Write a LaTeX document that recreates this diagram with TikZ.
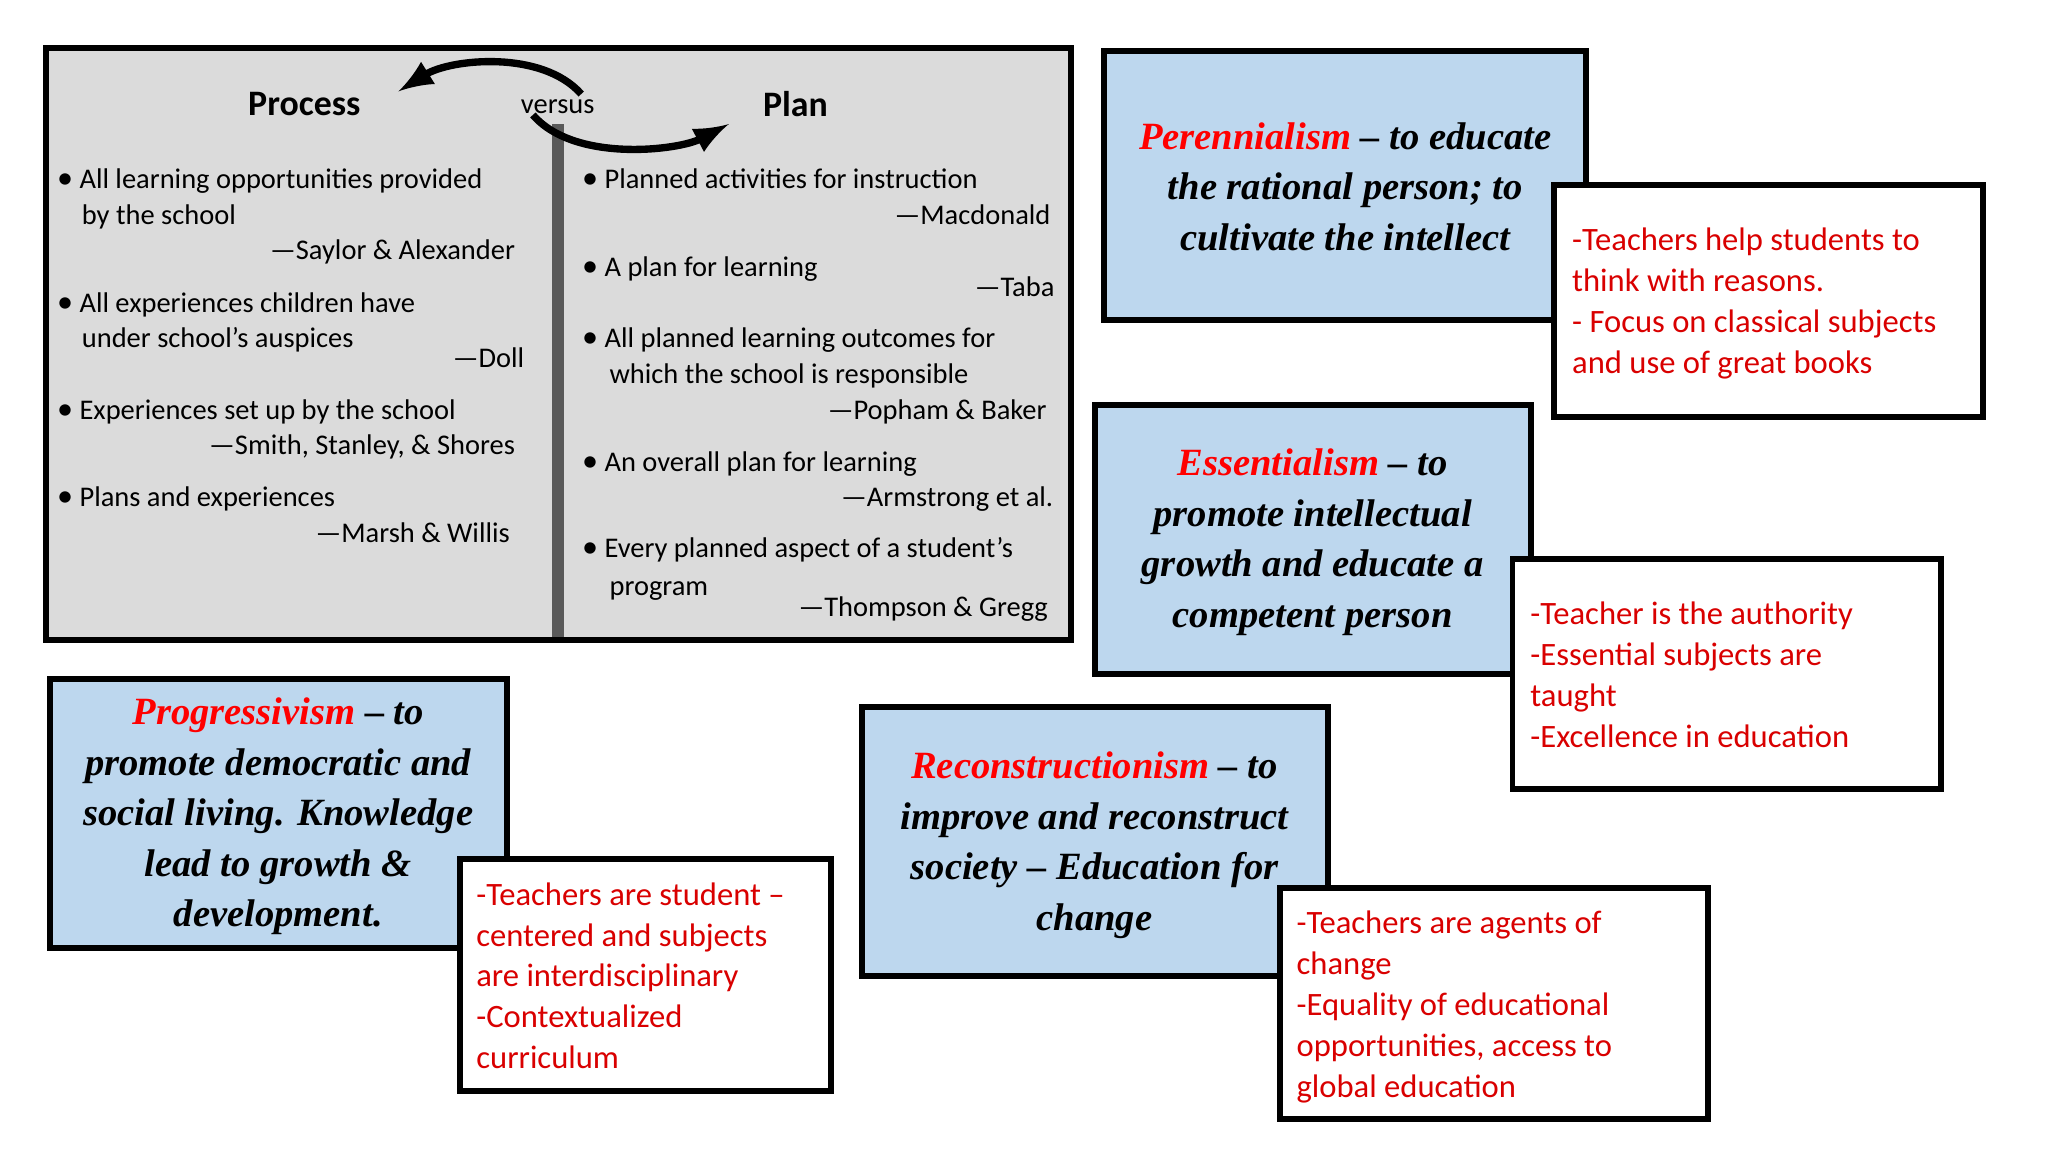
\documentclass[tikz,border=0pt]{standalone}
\usepackage{fontspec}
\setmainfont{Carlito}
\newfontfamily\ttl{Liberation Serif}
\definecolor{bfill}{RGB}{189,215,238}
\begin{document}
\begin{tikzpicture}[x=0.01cm,y=-0.01cm,
 gt/.style={font=\fontsize{6.2pt}{7pt}\selectfont,inner sep=0,anchor=base west},
 ga/.style={gt,anchor=base east},
 blue/.style={draw=black,line width=1.3pt,fill=bfill},
 redb/.style={draw=black,line width=1.3pt,fill=white},
 rt/.style={font=\fontsize{7.1pt}{8.9pt}\selectfont,text=red!85!black,align=left,anchor=north west,inner sep=0},
 tt/.style={font=\ttl\bfseries\itshape\fontsize{8.4pt}{11pt}\selectfont,align=center,inner sep=0}]
\newcommand\bul{{\scriptsize\textbullet}\ }
\useasboundingbox (0,0) rectangle (1568,882);
% panel
\draw[line width=1.3pt,fill=black!14] (35,37) rectangle (820,490);
\draw[line width=2.6pt,black!65] (427,95) -- (427,488);
\node[font=\bfseries\fontsize{7.8pt}{9pt}\selectfont] (pr) at (233,80) {Process};
\node[font=\bfseries\fontsize{7.8pt}{9pt}\selectfont] (pl) at (609,80) {Plan};
\node[font=\fontsize{6.2pt}{7pt}\selectfont] (vs) at (427,82) {versus};
\draw[line width=1.6pt,-latex] (445,72) .. controls (415,38) and (345,45) .. (305,70);
\draw[line width=1.6pt,-latex] (408,88) .. controls (440,125) and (520,115) .. (558,95);
\node[gt] (l1) at (43,144) {\bul All learning opportunities provided};
\node[gt] (l2) at (62,172) {by the school};
\node[ga] (l3) at (395,199) {—Saylor \& Alexander};
\node[gt] (l4) at (43,239) {\bul All experiences children have};
\node[gt] (l5) at (62,266) {under school's auspices};
\node[ga] (l6) at (402,281) {—Doll};
\node[gt] (l7) at (43,321) {\bul Experiences set up by the school};
\node[ga] (l8) at (395,348) {—Smith, Stanley, \& Shores};
\node[gt] (l9) at (43,388) {\bul Plans and experiences};
\node[ga] (l10) at (391,415) {—Marsh \& Willis};
\node[gt] (r1) at (445,144) {\bul Planned activities for instruction};
\node[ga] (r2) at (805,172) {—Macdonald};
\node[gt] (r3) at (445,212) {\bul A plan for learning};
\node[ga] (r4) at (808,227) {—Taba};
\node[gt] (r5) at (445,266) {\bul All planned learning outcomes for};
\node[gt] (r6) at (466,294) {which the school is responsible};
\node[ga] (r7) at (802,321) {—Popham \& Baker};
\node[gt] (r8) at (445,361) {\bul An overall plan for learning};
\node[ga] (r9) at (807,388) {—Armstrong et al.};
\node[gt] (r10) at (445,427) {\bul Every planned aspect of a student's};
\node[gt] (r11) at (466,456) {program};
\node[ga] (r12) at (803,472) {—Thompson \& Gregg};
% Perennialism
\draw[blue] (845,39) rectangle (1214,245);
\node[tt] (t1) at (1030,143) {\textcolor{red}{Perennialism} – to educate\\the rational person; to\\cultivate the intellect};
\draw[redb] (1190,142) rectangle (1518,319);
\node[rt] (b1) at (1203,174) {-Teachers help students to\\think with reasons.\\- Focus on classical subjects\\and use of great books};
% Essentialism
\draw[blue] (838,310) rectangle (1172,516);
\node[tt] (t2) at (1005,415) {\textcolor{red}{Essentialism} – to\\promote intellectual\\growth and educate a\\competent person};
\draw[redb] (1158,428) rectangle (1486,604);
\node[rt] (b2) at (1171,460) {-Teacher is the authority\\-Essential subjects are\\taught\\-Excellence in education};
% Progressivism
\draw[blue] (38,520) rectangle (388,726);
\node[tt] (t3) at (213,625) {\textcolor{red}{Progressivism} – to\\promote democratic and\\social living. Knowledge\\lead to growth \&\\development.};
\draw[redb] (352,658) rectangle (636,835);
\node[rt] (b3) at (364,675) {-Teachers are student –\\centered and subjects\\are interdisciplinary\\-Contextualized\\curriculum};
% Reconstructionism
\draw[blue] (660,541) rectangle (1017,747);
\node[tt] (t4) at (838,647) {\textcolor{red}{Reconstructionism} – to\\improve and reconstruct\\society – Education for\\change};
\draw[redb] (980,680) rectangle (1308,857);
\node[rt] (b4) at (992,697) {-Teachers are agents of\\change\\-Equality of educational\\opportunities, access to\\global education};
\end{tikzpicture}
\end{document}
